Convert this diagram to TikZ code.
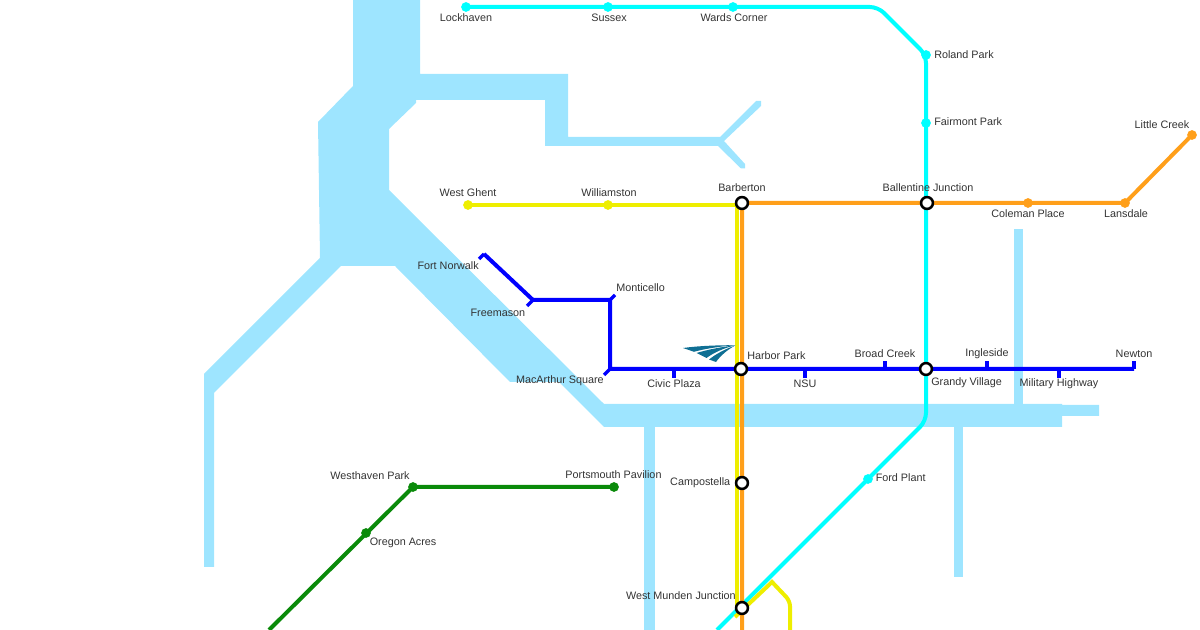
\documentclass[tikz,border=0pt]{standalone}
\usepackage{fontspec}
\setmainfont{Liberation Sans}
\usetikzlibrary{positioning,calc}
\definecolor{water}{HTML}{9EE5FF}
\definecolor{cyanline}{HTML}{00FFFF}
\definecolor{yellowline}{HTML}{EEEE00}
\definecolor{orangeline}{HTML}{FF9F1A}
\definecolor{blueline}{HTML}{0000FF}
\definecolor{greenline}{HTML}{0A8A0A}
\definecolor{amtrak}{HTML}{0F6F94}
\tikzset{wet/.style={fill=water, draw=none}}
\tikzset{rail/.style={draw, line width=3pt, line join=miter}}
\tikzset{tick/.style={rail, blueline, line width=2.4pt}}
\tikzset{dot/.style={circle, inner sep=0pt, minimum size=7.3pt}}
\tikzset{xfer/.style={circle, draw=black, line width=1.9pt, fill=white, inner sep=0pt, minimum size=8.9pt}}
\tikzset{lbl/.style={inner sep=0pt, text=black!80, font=\fontsize{8.1}{9.7}\selectfont}}
\begin{document}
\begin{tikzpicture}[x=.75pt, y=-.75pt]
	\useasboundingbox (0,0) rectangle (1200,630);
	% water
	\fill[wet] (353,0) -- (353,86) -- (318,122) -- (320,258) -- (204,374) -- (204,567) -- (214,567) -- (214,393) -- (341,266) -- (395,266) -- (510,382) -- (559,382) -- (604,427) -- (1062,427) -- (1062,416) -- (1099,416) -- (1099,405) -- (1062,405) -- (1062,404) -- (604,404) -- (389,190) -- (389,129) -- (416,103) -- (416,100) -- (545,100) -- (545,146) -- (718,146) -- (741,168.5) -- (745,168.5) -- (745,164) -- (724,141) -- (761,106) -- (761,101) -- (756,101) -- (720,137) -- (568,137) -- (568,74) -- (420,74) -- (420,0) -- cycle;
	\fill[wet] (1014,229) rectangle (1023,405);
	\fill[wet] (954,427) rectangle (963,577);
	\fill[wet] (644,427) rectangle (655,630);
	% stops
	\coordinate (Lockhaven) at (466,7);
	\coordinate (Sussex) at (608,7);
	\coordinate (WardsCorner) at (733,7);
	\coordinate (RolandPark) at (926,55);
	\coordinate (FairmontPark) at (926,123);
	\coordinate (FordPlant) at (868,479);
	\coordinate (WestGhent) at (468,205);
	\coordinate (Williamston) at (608,205);
	\coordinate (Barberton) at (742,203);
	\coordinate (Ballentine) at (927,203);
	\coordinate (Coleman) at (1028,203);
	\coordinate (Lansdale) at (1125,203);
	\coordinate (LittleCreek) at (1192,135);
	\coordinate (FortNorwalk) at (484,254);
	\coordinate (Freemason) at (533,300);
	\coordinate (Monticello) at (610,300);
	\coordinate (MacArthur) at (610,369);
	\coordinate (CivicPlaza) at (674,369);
	\coordinate (HarborPark) at (741,369);
	\coordinate (NSU) at (805,369);
	\coordinate (BroadCreek) at (885,369);
	\coordinate (Grandy) at (926,369);
	\coordinate (Ingleside) at (987,369);
	\coordinate (Military) at (1059,369);
	\coordinate (Newton) at (1134,369);
	\coordinate (Campostella) at (742,483);
	\coordinate (WestMunden) at (742,608);
	\coordinate (Westhaven) at (413,487);
	\coordinate (Portsmouth) at (614,487);
	\coordinate (Oregon) at (366,533);
	% lines
	\draw[rail, cyanline, rounded corners=6pt] (Lockhaven) -- (878,7) -- (RolandPark) -- (926,421) -- (FordPlant) -- (717,630);
	\draw[rail, yellowline] (WestGhent) -- (736.5,205) -- (736.5,610);
	\draw[rail, yellowline] (735,617) -- (772,582) [rounded corners=4pt] -- (790,601) -- (790,630);
	\draw[rail, orangeline] (LittleCreek) -- (Lansdale) -- (Barberton) -- (742,630);
	\draw[rail, blueline] (FortNorwalk) -- (Freemason) -- (Monticello) -- (MacArthur) -- (Newton);
	\draw[rail, greenline] (269,630) -- (Westhaven) -- (Portsmouth);
	% ticks
	\draw[tick] (FortNorwalk) -- ++(-5,5);
	\draw[tick] (Freemason) -- ++(-6,6);
	\draw[tick] (Monticello) -- ++(5,-5);
	\draw[tick] (MacArthur) -- ++(-6,6);
	\foreach \s in {CivicPlaza,NSU,Military}
		\draw[tick] (\s) -- ++(0,9);
	\foreach \s in {BroadCreek,Ingleside,Newton}
		\draw[tick] (\s) -- ++(0,-8);
	% stations
	\foreach \s in {Lockhaven,Sussex,WardsCorner,RolandPark,FairmontPark,FordPlant}
		\node[dot, fill=cyanline] (dot\s) at (\s) {};
	\foreach \s in {WestGhent,Williamston}
		\node[dot, fill=yellowline] (dot\s) at (\s) {};
	\foreach \s in {Coleman,Lansdale,LittleCreek}
		\node[dot, fill=orangeline] (dot\s) at (\s) {};
	\foreach \s in {Westhaven,Portsmouth,Oregon}
		\node[dot, fill=greenline] (dot\s) at (\s) {};
	\foreach \s in {Barberton,Ballentine,HarborPark,Grandy,Campostella,WestMunden}
		\node[xfer] (x\s) at (\s) {};
	% amtrak mark
	\fill[amtrak] (683,348) .. controls (698,346) and (715,345.2) .. (735,345.2) .. controls (720,346.5) and (706,348.5) .. (694,351.8) -- cycle;
	\fill[amtrak] (696.5,353) .. controls (708,349.5) and (722,346.8) .. (735,345.4) .. controls (724,348) and (714,352.5) .. (706.5,358) -- cycle;
	\fill[amtrak] (709,359.5) .. controls (716,354) and (725,349) .. (735,345.6) .. controls (728,349.5) and (721,355) .. (716,362) -- cycle;
	% labels
	\node[lbl] (lblLockhaven) at (466,18) {Lockhaven};
	\node[lbl] (lblSussex) at (609,18) {Sussex};
	\node[lbl] (lblWards) at (734,18) {Wards Corner};
	\node[lbl, anchor=west] (lblRoland) at (934,55) {Roland Park};
	\node[lbl, anchor=west] (lblFairmont) at (934,122) {Fairmont Park};
	\node[lbl] (lblLittle) at (1162,125) {Little Creek};
	\node[lbl] (lblGhent) at (468,193) {West Ghent};
	\node[lbl] (lblWilliamston) at (609,193) {Williamston};
	\node[lbl] (lblBarberton) at (742,188) {Barberton};
	\node[lbl] (lblBallentine) at (928,188) {Ballentine Junction};
	\node[lbl] (lblColeman) at (1028,214) {Coleman Place};
	\node[lbl] (lblLansdale) at (1126,214) {Lansdale};
	\node[lbl, anchor=east] (lblNorwalk) at (479,266) {Fort Norwalk};
	\node[lbl, anchor=east] (lblFreemason) at (525.5,313) {Freemason};
	\node[lbl, anchor=west] (lblMonticello) at (616,288) {Monticello};
	\node[lbl, anchor=west] (lblHarbor) at (747,356) {Harbor Park};
	\node[lbl, anchor=east] (lblMacArthur) at (604,381) {MacArthur Square};
	\node[lbl] (lblCivic) at (674,384) {Civic Plaza};
	\node[lbl] (lblNSU) at (805,384) {NSU};
	\node[lbl] (lblBroad) at (885,354) {Broad Creek};
	\node[lbl, anchor=west] (lblGrandy) at (931,383) {Grandy Village};
	\node[lbl] (lblIngleside) at (987,354) {Ingleside};
	\node[lbl] (lblMilitary) at (1059,384) {Military Highway};
	\node[lbl] (lblNewton) at (1134,354) {Newton};
	\node[lbl] (lblWesthaven) at (370,476) {Westhaven Park};
	\node[lbl] (lblPortsmouth) at (613.5,475) {Portsmouth Pavilion};
	\node[lbl, anchor=west] (lblOregon) at (369.5,543) {Oregon Acres};
	\node[lbl, anchor=west] (lblFord) at (875.5,478) {Ford Plant};
	\node[lbl, anchor=east] (lblCampostella) at (730.5,483) {Campostella};
	\node[lbl, anchor=east] (lblMunden) at (736,596) {West Munden Junction};
\end{tikzpicture}
\end{document}
